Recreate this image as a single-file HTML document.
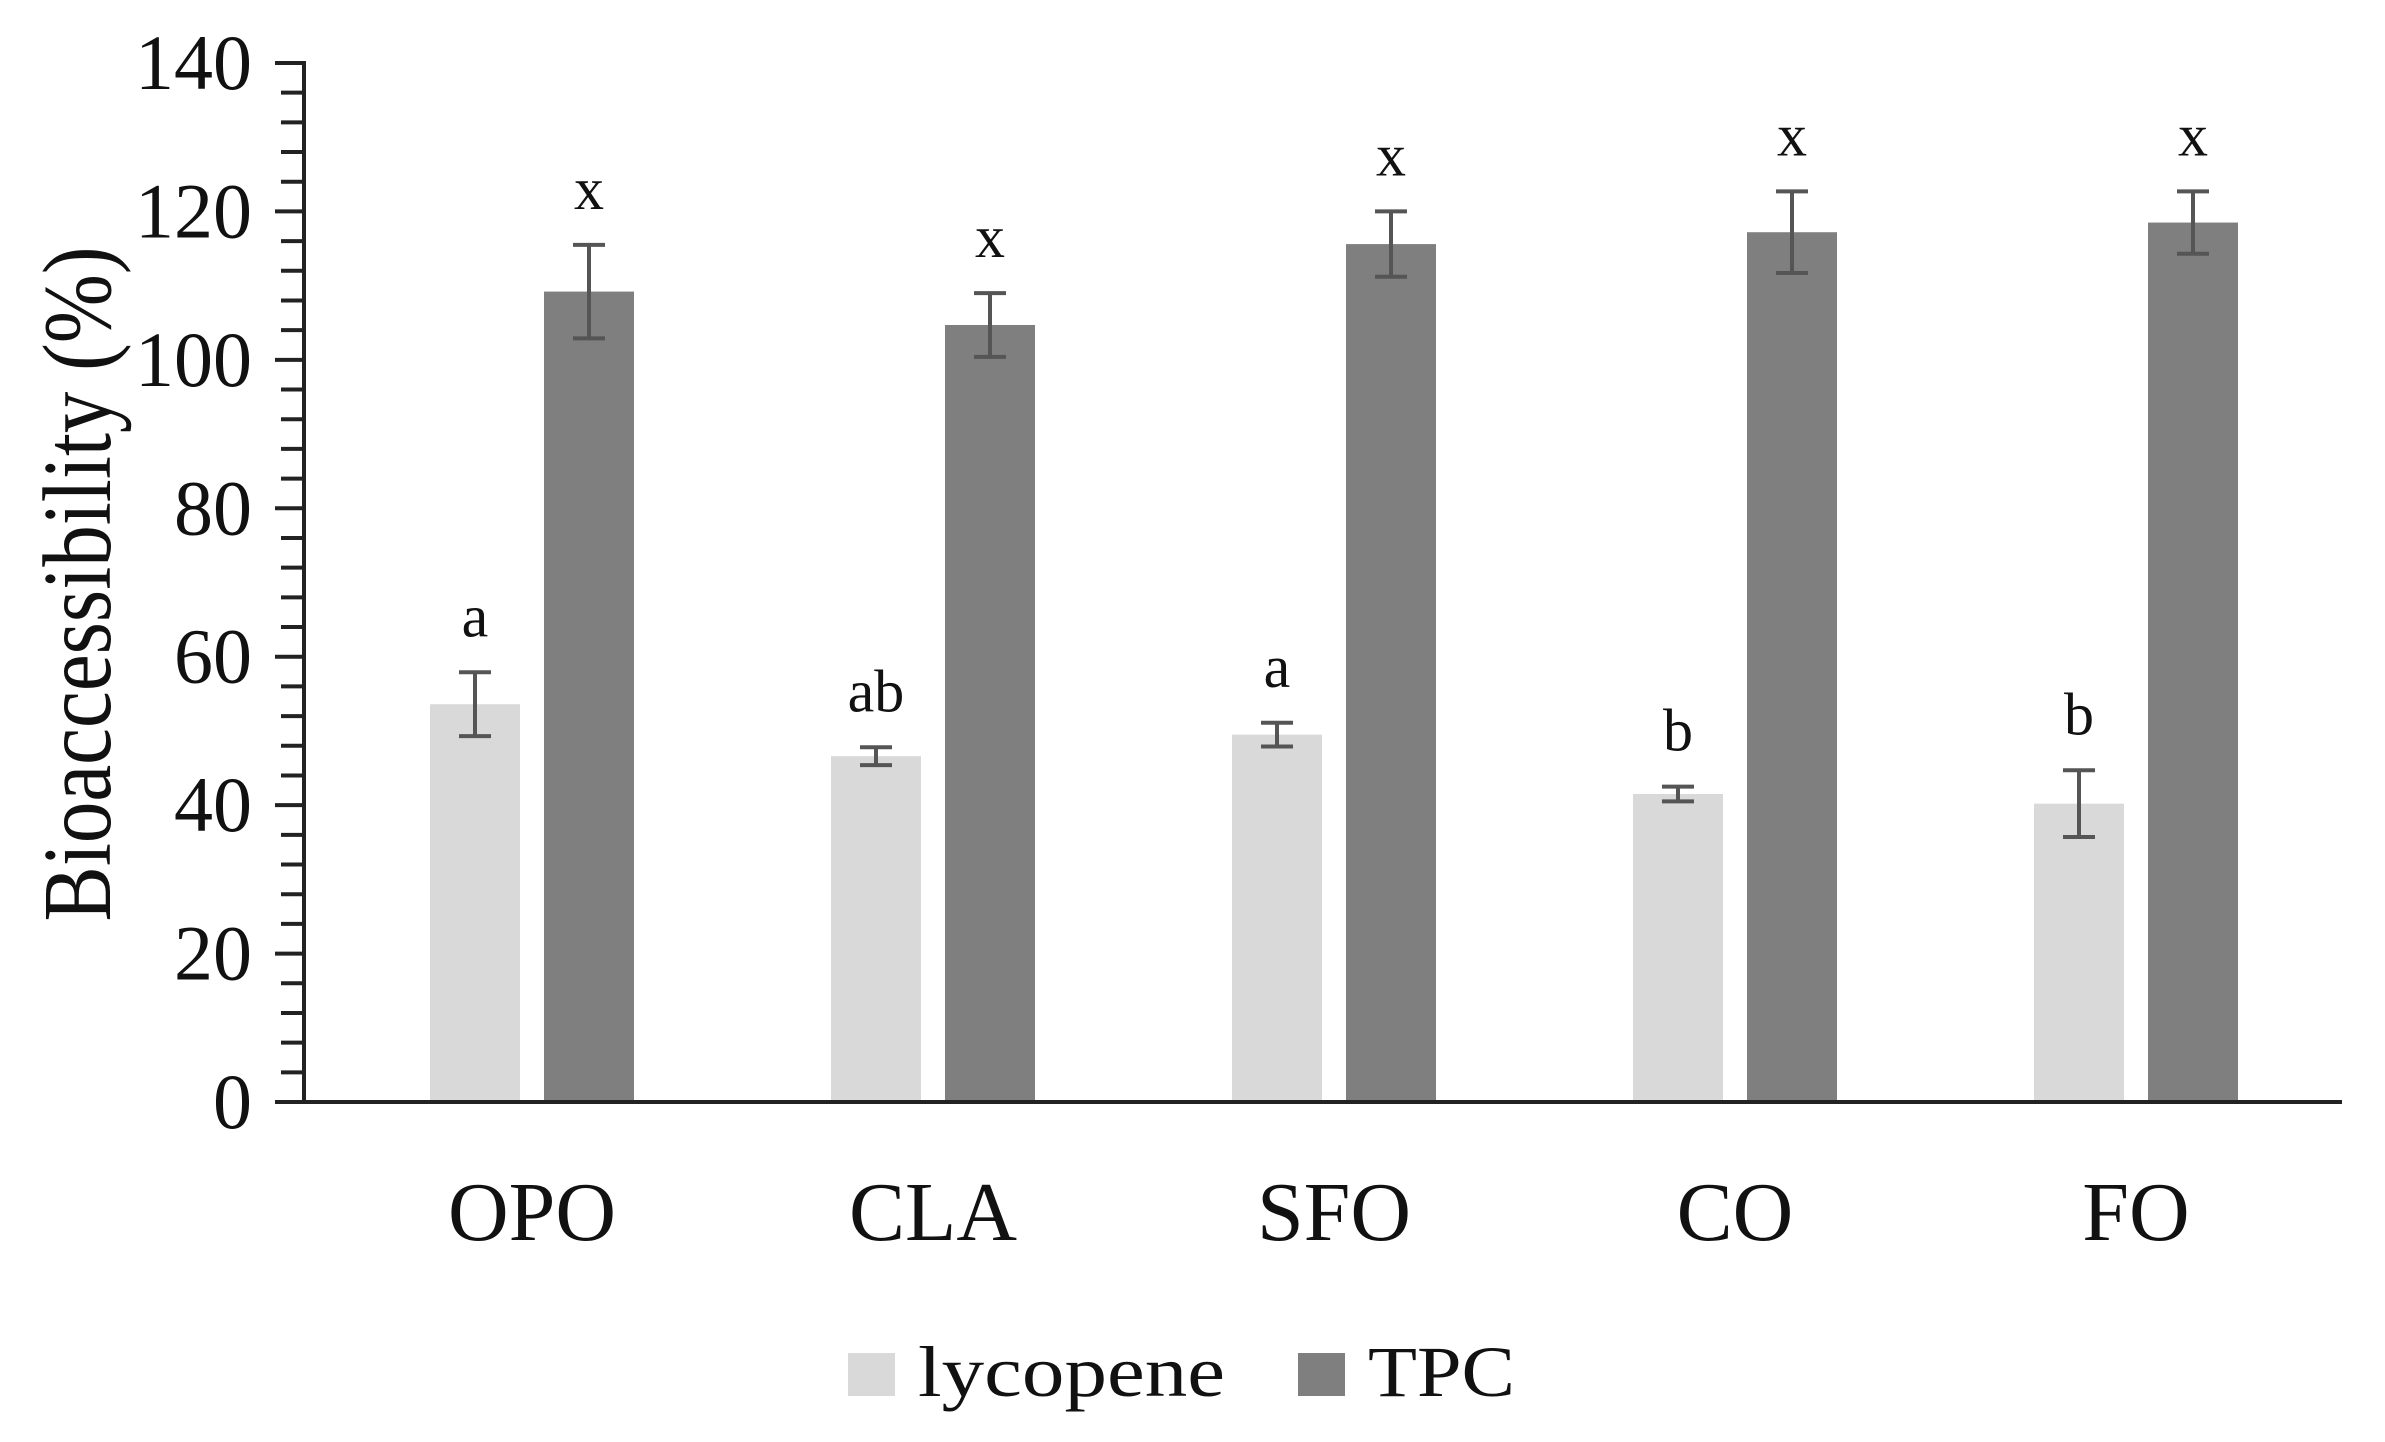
<!DOCTYPE html>
<html><head><meta charset="utf-8"><style>
html,body{margin:0;padding:0;background:#fff;}
svg{display:block;font-family:"Liberation Serif",serif;}
</style></head><body>
<svg id="chart" width="2385" height="1442" viewBox="0 0 2385 1442" xmlns="http://www.w3.org/2000/svg"></svg>
<script>
const categories = ["OPO","CLA","SFO","CO","FO"];
const lycopene = [53.6,46.6,49.5,41.5,40.2];
const lycopeneErr = [4.3,1.2,1.6,1.0,4.5];
const lycopeneLetters = ["a","ab","a","b","b"];
const tpc = [109.2,104.7,115.6,117.2,118.5];
const tpcErr = [6.3,4.3,4.4,5.5,4.2];
const tpcLetters = ["x","x","x","x","x"];
const yTicks = [0,20,40,60,80,100,120,140];

const svg = document.getElementById('chart');
const NS = 'http://www.w3.org/2000/svg';
const X0 = 304, XEND = 2342, Y0 = 1102, YTOP = 63, C0 = 532, CW = 401;
function y(v){ return Y0 - v * (Y0 - YTOP) / 140; }
function catX(i){ return C0 + CW * i; }
function mk(tag, attrs, parent){
  const e = document.createElementNS(NS, tag);
  for (const k in attrs) e.setAttribute(k, attrs[k]);
  (parent || svg).appendChild(e);
  return e;
}

const series = [
  {vals: lycopene, err: lycopeneErr, letters: lycopeneLetters, fill: '#d9d9d9', off: -57, name: 'lycopene'},
  {vals: tpc, err: tpcErr, letters: tpcLetters, fill: '#7f7f7f', off: 57, name: 'tpc'}
];
series.forEach(s => {
  s.vals.forEach((v, i) => {
    const cx = catX(i) + s.off;
    const r = mk('rect', {x: cx - 45, y: y(v), width: 90, height: Y0 - y(v), fill: s.fill});
    
    
    const g = mk('g', {stroke: '#555', 'stroke-width': 4});
    
    
    const top = y(v + s.err[i]), bot = y(v - s.err[i]);
    mk('line', {x1: cx, x2: cx, y1: top, y2: bot}, g);
    mk('line', {x1: cx - 16, x2: cx + 16, y1: top, y2: top}, g);
    mk('line', {x1: cx - 16, x2: cx + 16, y1: bot, y2: bot}, g);
    const t = mk('text', {x: cx, y: top - 36, 'text-anchor': 'middle', 'font-size': 60, fill: '#111'});
    t.textContent = s.letters[i];
    
    
  });
});

const ax = mk('g', {stroke: '#222', 'stroke-width': 4});


mk('line', {x1: X0, x2: X0, y1: YTOP - 2, y2: Y0 + 2}, ax);
mk('line', {x1: X0 - 29, x2: XEND, y1: Y0, y2: Y0}, ax);
for (let v = 0; v <= 140; v += 4) {
  const major = v % 20 === 0;
  mk('line', {x1: major ? X0 - 29 : X0 - 23, x2: X0, y1: y(v), y2: y(v)}, ax);
}
yTicks.forEach(v => {
  const t = mk('text', {x: 252, y: y(v) + 26, 'text-anchor': 'end', 'font-size': 78, fill: '#111'});
  t.textContent = v;
  
  
});
categories.forEach((c, i) => {
  const t = mk('text', {x: catX(i), y: 1240, 'text-anchor': 'middle', 'font-size': 84, fill: '#111'});
  t.textContent = c;
  
  
});
const yt = mk('text', {x: 0, y: 0, transform: 'translate(110,584) rotate(-90)', 'text-anchor': 'middle', 'font-size': 98, fill: '#111', textLength: 675, lengthAdjust: 'spacingAndGlyphs'});
yt.textContent = 'Bioaccessibility (%)';



const lg = mk('g', {});


const l1 = mk('rect', {x: 848, y: 1353, width: 47, height: 43, fill: '#d9d9d9'}, lg);


const lt1 = mk('text', {x: 918, y: 1396, 'font-size': 72, fill: '#111', textLength: 307, lengthAdjust: 'spacingAndGlyphs'}, lg);
lt1.textContent = 'lycopene';


const l2 = mk('rect', {x: 1298, y: 1353, width: 47, height: 43, fill: '#7f7f7f'}, lg);


const lt2 = mk('text', {x: 1368, y: 1396, 'font-size': 72, fill: '#111', textLength: 147, lengthAdjust: 'spacingAndGlyphs'}, lg);
lt2.textContent = 'TPC';


</script>
</body></html>
